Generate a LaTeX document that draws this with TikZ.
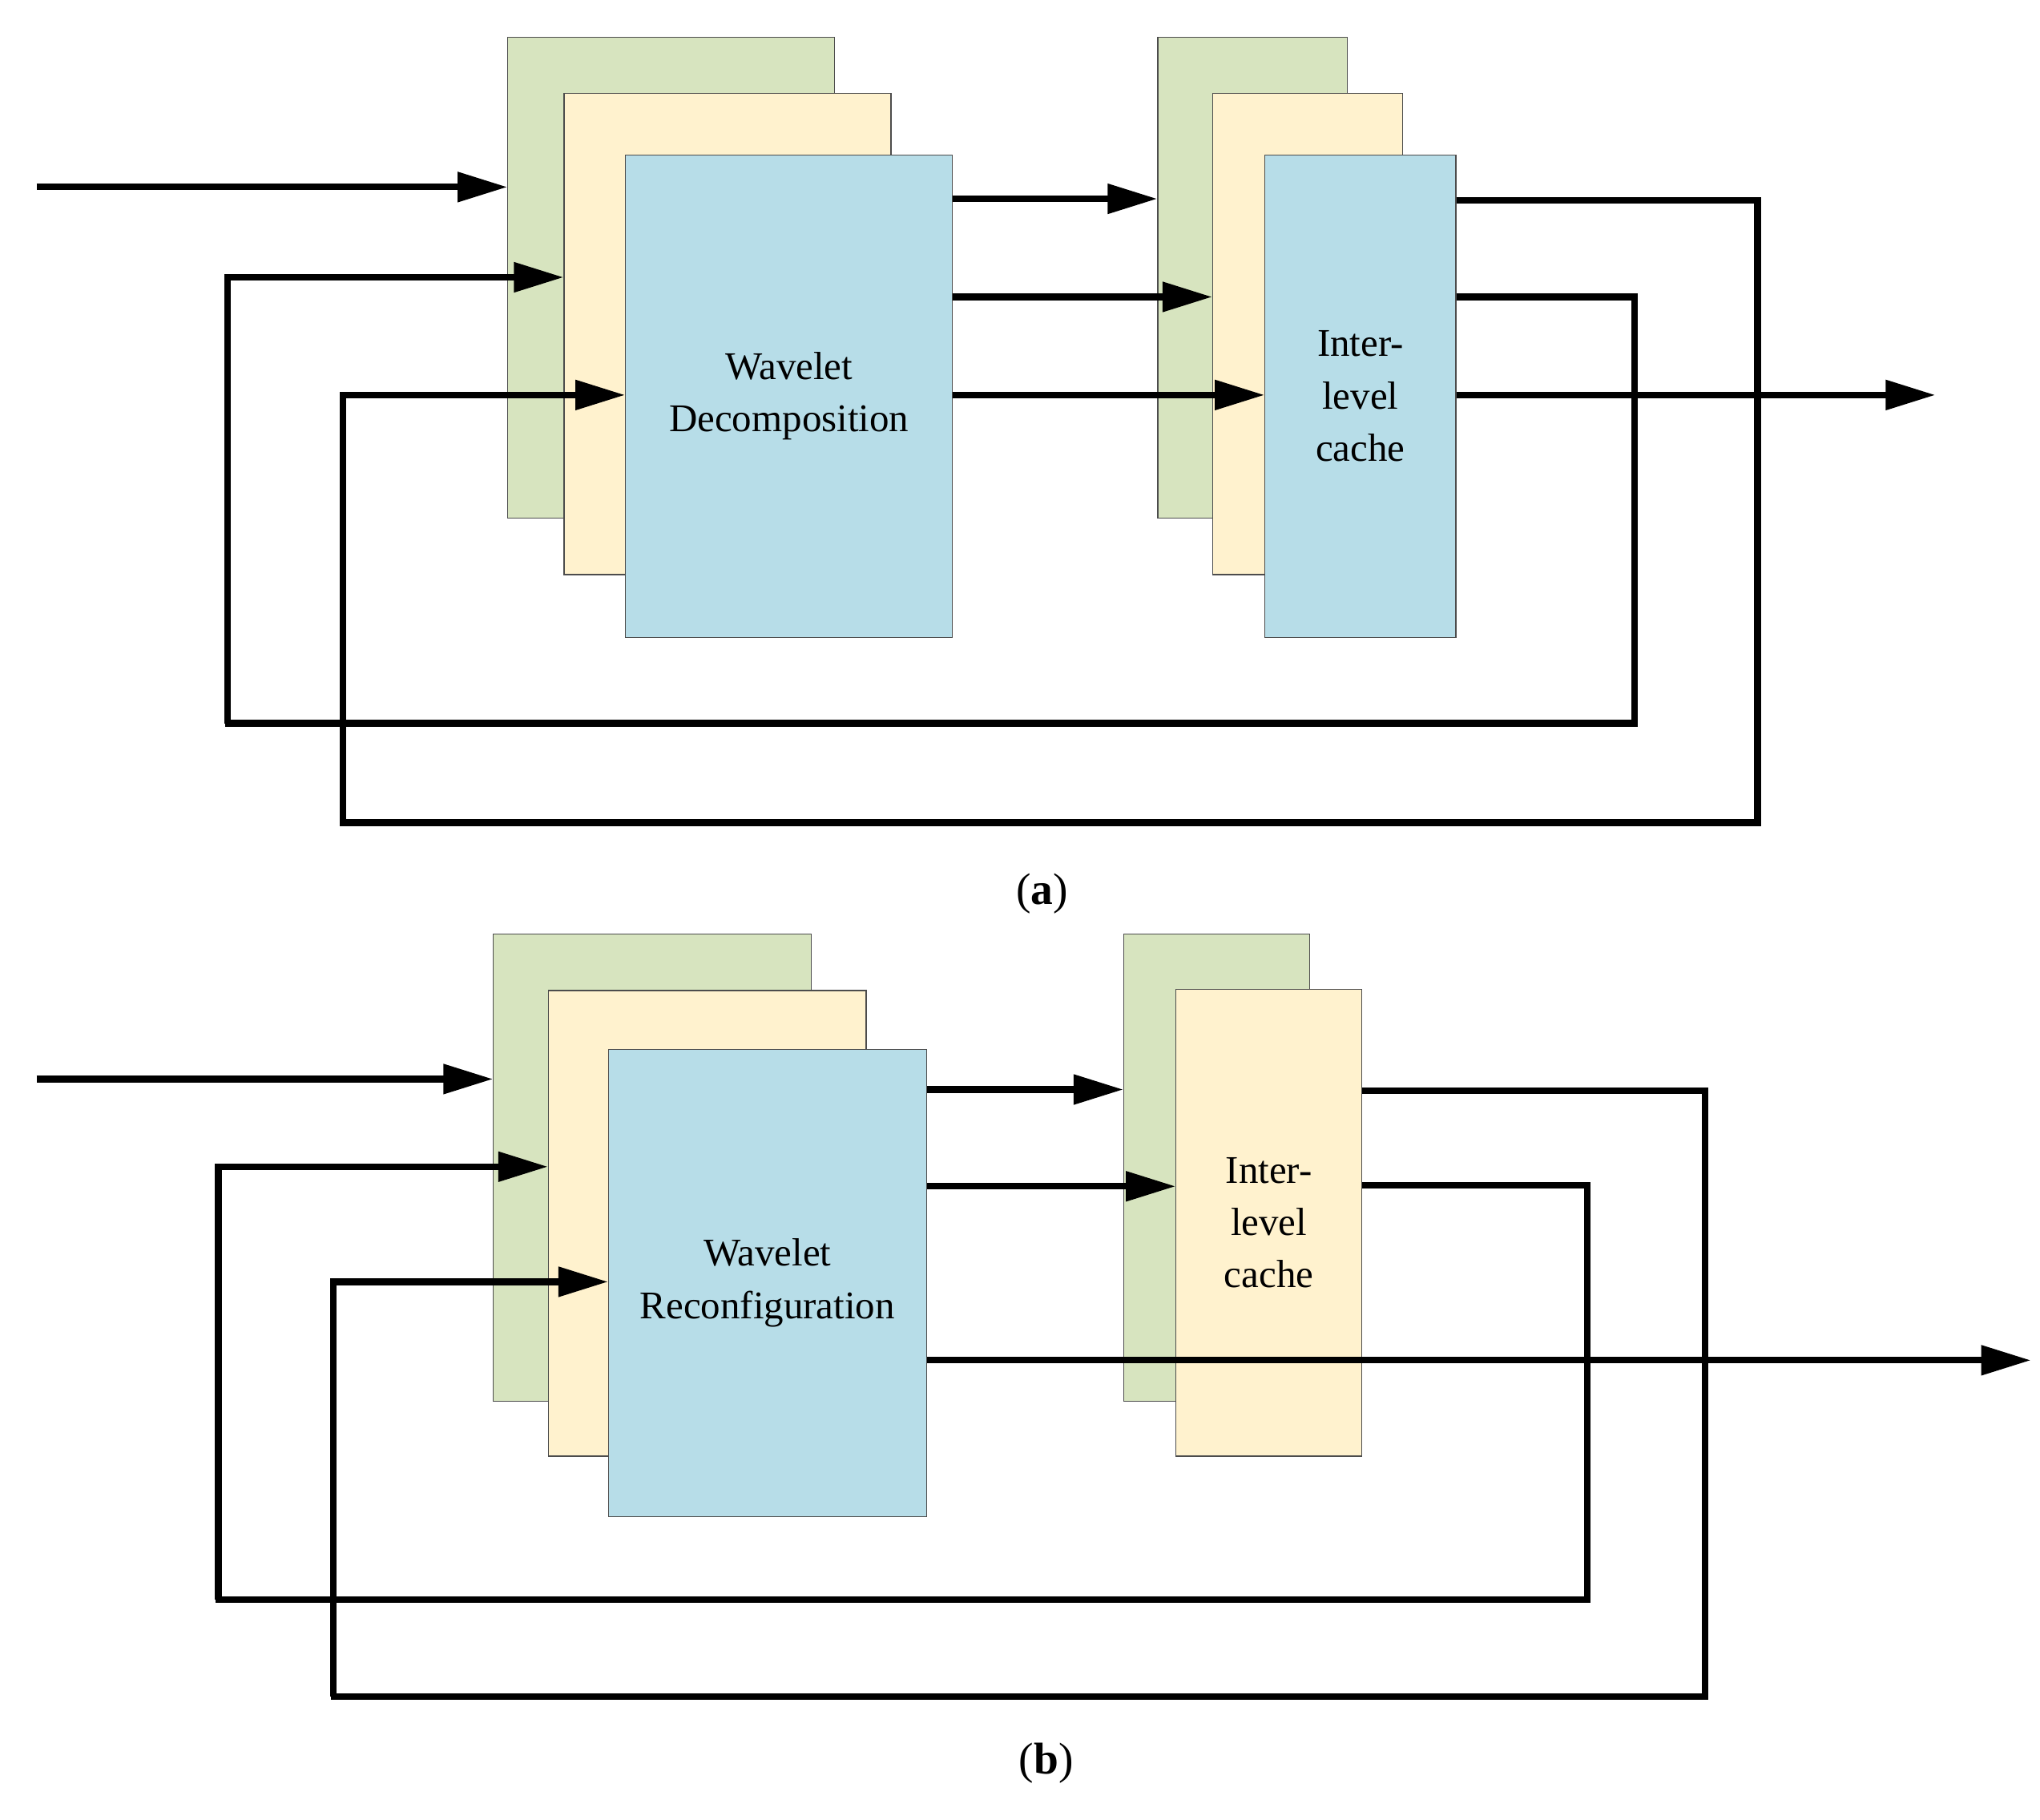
\documentclass[tikz,border=0pt]{standalone}
\usepackage{fontspec}
\setmainfont{Liberation Serif}
\usetikzlibrary{arrows.meta}
\definecolor{cg}{HTML}{D7E4BF}
\definecolor{cy}{HTML}{FFF2CE}
\definecolor{cb}{HTML}{B7DDE8}
\begin{document}
\begin{tikzpicture}[x=1pt,y=-1pt,
  box/.style={draw=black!70,line width=0.7pt,anchor=north west,inner sep=0pt,align=center,font=\fontsize{30}{40}\selectfont},
  arr/.style={line width=5pt,-{Triangle[length=38pt,width=22pt]}},
  ln/.style={line width=5pt,line join=miter},
  lab/.style={font=\fontsize{34}{40}\selectfont}]
\useasboundingbox (0,0) rectangle (1560,1391);
% (a)
\node[box,fill=cg,minimum width=250pt,minimum height=368pt] (ga) at (388,28) {};
\node[box,fill=cy,minimum width=250pt,minimum height=368pt] (ya) at (431,71) {};
\node[box,fill=cb,minimum width=250pt,minimum height=369pt] (ba) at (478,118) {Wavelet\\Decomposition};
\node[box,fill=cg,minimum width=145pt,minimum height=368pt] (gc) at (885,28) {};
\node[box,fill=cy,minimum width=145pt,minimum height=368pt] (yc) at (927,71) {};
\node[box,fill=cb,minimum width=146pt,minimum height=369pt] (bc) at (967,118) {Inter-\\level\\cache};
\coordinate (ia) at (28,143);
\draw[arr] (ia) -- (ga.west |- ia);
\draw[arr] (174,553) -- (174,212) -- (ya.west |- 0,212);
\draw[arr] (262,629) -- (262,302) -- (ba.west |- 0,302);
\draw[arr] (ba.east |- 0,152) -- (gc.west |- 0,152);
\draw[arr] (ba.east |- 0,227) -- (yc.west |- 0,227);
\draw[arr] (ba.east |- 0,302) -- (bc.west |- 0,302);
\draw[ln] (bc.east |- 0,153) -- (1344,153) -- (1344,629) -- (260,629);
\draw[ln] (bc.east |- 0,227) -- (1250,227) -- (1250,553) -- (172,553);
\coordinate (oa) at (1480,302);
\draw[arr] (bc.east |- oa) -- (oa);
\node[lab] (la) at (797,683) {(\textbf{a})};
% (b)
\node[box,fill=cg,minimum width=243pt,minimum height=357pt] (gb) at (377,714) {};
\node[box,fill=cy,minimum width=243pt,minimum height=356pt] (yb) at (419,757) {};
\node[box,fill=cb,minimum width=243pt,minimum height=357pt] (bb) at (465,802) {Wavelet\\Reconfiguration};
\node[box,fill=cg,minimum width=142pt,minimum height=357pt] (gd) at (859,714) {};
\node[box,fill=cy,minimum width=142pt,minimum height=357pt] (yd) at (899,756) {Inter-\\level\\cache};
\coordinate (ib) at (28,825);
\draw[arr] (ib) -- (gb.west |- ib);
\draw[arr] (167,1223) -- (167,892) -- (yb.west |- 0,892);
\draw[arr] (255,1297) -- (255,980) -- (bb.west |- 0,980);
\draw[arr] (bb.east |- 0,833) -- (gd.west |- 0,833);
\draw[arr] (bb.east |- 0,907) -- (yd.west |- 0,907);
\draw[ln] (yd.east |- 0,834) -- (1304,834) -- (1304,1297) -- (253,1297);
\draw[ln] (yd.east |- 0,906) -- (1214,906) -- (1214,1223) -- (165,1223);
\coordinate (ob) at (1553,1040);
\draw[arr] (bb.east |- ob) -- (ob);
\node[lab] (lb) at (800,1348) {(\textbf{b})};
\end{tikzpicture}
\end{document}
